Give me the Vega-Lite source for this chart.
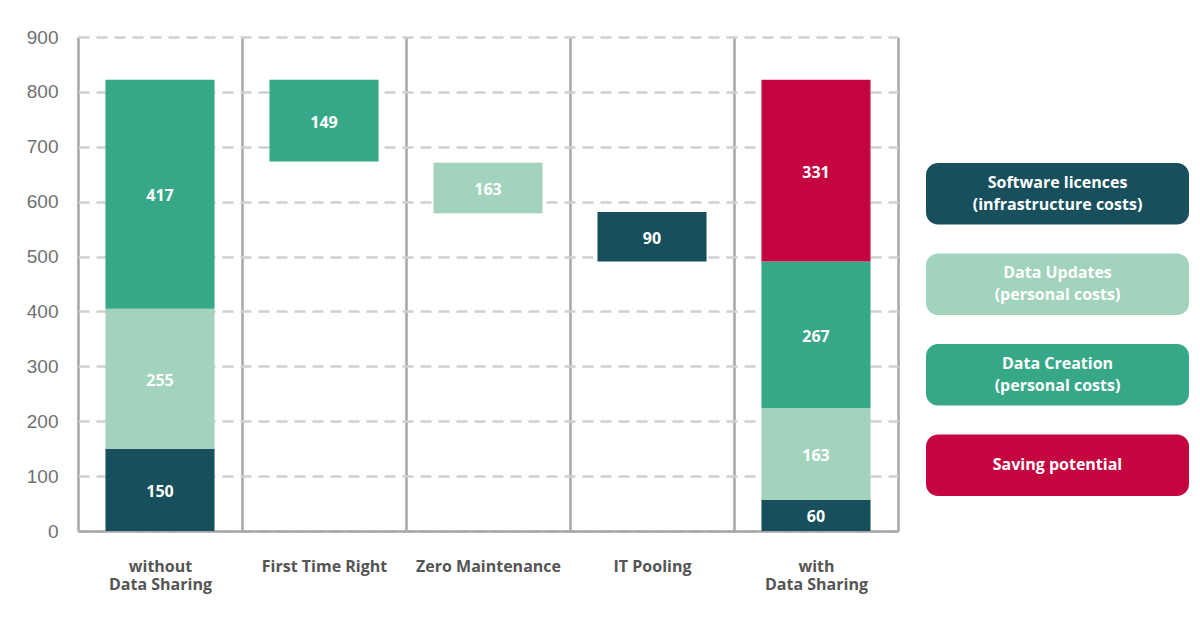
{
  "$schema": "https://vega.github.io/schema/vega-lite/v6.json",
  "description": "Cost comparison without and with data sharing",
  "padding": {"left": 26, "top": 28, "right": 5, "bottom": 5},
  "config": {"view": {"stroke": null}, "font": "Open Sans", "concat": {"spacing": 28}},
  "datasets": {
    "costs": [
      {"step": "without\nData Sharing", "series": "Software licences", "start": 0, "end": 150, "label": "150"},
      {"step": "without\nData Sharing", "series": "Data Updates", "start": 150, "end": 405, "label": "255"},
      {"step": "without\nData Sharing", "series": "Data Creation", "start": 405, "end": 822, "label": "417"},
      {"step": "First Time Right", "series": "Data Creation", "start": 673, "end": 822, "label": "149"},
      {"step": "Zero Maintenance", "series": "Data Updates", "start": 579, "end": 671, "label": "163"},
      {"step": "IT Pooling", "series": "Software licences", "start": 491, "end": 581, "label": "90"},
      {"step": "with\nData Sharing", "series": "Software licences", "start": 0, "end": 57, "label": "60"},
      {"step": "with\nData Sharing", "series": "Data Updates", "start": 57, "end": 224, "label": "163"},
      {"step": "with\nData Sharing", "series": "Data Creation", "start": 224, "end": 491, "label": "267"},
      {"step": "with\nData Sharing", "series": "Saving potential", "start": 491, "end": 822, "label": "331"}
    ],
    "legend": [
      {"series": "Software licences", "label": "Software licences\n(infrastructure costs)", "lines": 2},
      {"series": "Data Updates", "label": "Data Updates\n(personal costs)", "lines": 2},
      {"series": "Data Creation", "label": "Data Creation\n(personal costs)", "lines": 2},
      {"series": "Saving potential", "label": "Saving potential", "lines": 1}
    ]
  },
  "hconcat": [
    {
      "width": 820,
      "height": 494,
      "data": {"name": "costs"},
      "transform": [{"calculate": "(datum.start + datum.end) / 2", "as": "mid"}],
      "encoding": {
        "x": {
          "field": "step",
          "type": "nominal",
          "sort": null,
          "scale": {"paddingInner": 0, "paddingOuter": 0},
          "axis": {
            "title": null,
            "domain": true,
            "domainColor": "#a6a6a6",
            "domainWidth": 2.5,
            "ticks": false,
            "grid": true,
            "gridColor": "#a6a6a6",
            "gridWidth": 2.5,
            "tickBand": "extent",
            "labelAngle": 0,
            "labelFont": "Open Sans",
            "labelFontWeight": "bold",
            "labelFontSize": 16,
            "labelColor": "#555555",
            "labelPadding": 35,
            "labelBaseline": "middle",
            "labelLineHeight": 18,
            "labelExpr": "split(datum.label, '\\n')"
          }
        }
      },
      "layer": [
        {
          "mark": {"type": "bar", "width": {"band": 0.665}},
          "encoding": {
            "y": {
              "field": "start",
              "type": "quantitative",
              "scale": {"domain": [0, 900], "nice": false},
              "axis": {
                "title": null,
                "values": [0, 100, 200, 300, 400, 500, 600, 700, 800, 900],
                "domain": false,
                "ticks": false,
                "grid": true,
                "gridColor": "#d0d0d0",
                "gridDash": [11, 7],
                "gridWidth": 2.5,
                "labelFont": "Liberation Sans",
                "labelFontSize": 19,
                "labelColor": "#707070",
                "labelPadding": 20
              }
            },
            "y2": {"field": "end"},
            "color": {
              "field": "series",
              "type": "nominal",
              "scale": {
                "domain": ["Software licences", "Data Updates", "Data Creation", "Saving potential"],
                "range": ["#17505C", "#A2D3BC", "#37A887", "#C5053F"]
              },
              "legend": null
            }
          }
        },
        {
          "mark": {"type": "text", "color": "white", "fontWeight": "bold", "fontSize": 16, "font": "Open Sans", "dy": 2},
          "encoding": {
            "y": {"field": "mid", "type": "quantitative"},
            "text": {"field": "label"}
          }
        }
      ]
    },
    {
      "width": 263,
      "height": 494,
      "data": {"name": "legend"},
      "encoding": {
        "y": {
          "field": "series",
          "type": "nominal",
          "sort": null,
          "scale": {"paddingInner": 0.3204, "paddingOuter": 0.8895, "align": 0.7826},
          "axis": null
        }
      },
      "layer": [
        {
          "mark": {"type": "rect", "cornerRadius": 12},
          "encoding": {
            "color": {
              "field": "series",
              "type": "nominal",
              "scale": {
                "domain": ["Software licences", "Data Updates", "Data Creation", "Saving potential"],
                "range": ["#17505C", "#A2D3BC", "#37A887", "#C5053F"]
              },
              "legend": null
            }
          }
        },
        {
          "transform": [{"filter": "datum.lines == 2"}],
          "mark": {"type": "text", "color": "white", "fontWeight": "bold", "fontSize": 16, "font": "Open Sans", "lineBreak": "\n", "lineHeight": 22, "dy": -11},
          "encoding": {"text": {"field": "label"}}
        },
        {
          "transform": [{"filter": "datum.lines == 1"}],
          "mark": {"type": "text", "color": "white", "fontWeight": "bold", "fontSize": 16, "font": "Open Sans"},
          "encoding": {"text": {"field": "label"}}
        }
      ]
    }
  ]
}
